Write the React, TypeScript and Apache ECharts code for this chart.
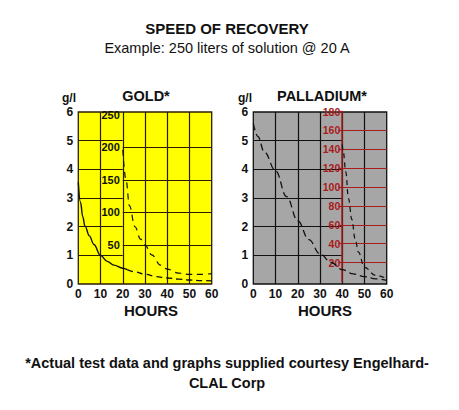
import React, { useEffect, useRef } from "react";
import * as echarts from "echarts";

// ---- data ----
const hourTicks = [0, 10, 20, 30, 40, 50, 60];

// GOLD: g/l curve (solid part, then dashed tail) on the left axis
const goldSolidHours = [0, 1, 2, 3, 5, 7, 10, 13, 16, 20, 22];
const goldSolidGpl = [3.55, 2.85, 2.35, 2.02, 1.68, 1.38, 1.0, 0.79, 0.66, 0.55, 0.5];
const goldTailHours = [22, 25, 30, 35, 40, 45, 50, 55, 60];
const goldTailGpl = [0.5, 0.43, 0.34, 0.26, 0.21, 0.17, 0.14, 0.12, 0.11];
// GOLD: second dashed curve on the inner 0-250 axis
const goldSecondHours = [20, 21.5, 23, 25.5, 28, 30, 33, 37, 40, 45, 50, 55, 60];
const goldSecondValues = [196, 149, 110, 78, 59, 50, 35, 19, 13, 7, 5, 5, 6];

// PALLADIUM: g/l dashed curve on the left axis
const pdHours = [0, 2, 5, 10, 15, 20, 25, 30, 35, 40, 45, 50, 55, 60];
const pdGpl = [5.6, 5.15, 4.6, 3.95, 3.05, 2.2, 1.55, 1.05, 0.75, 0.5, 0.35, 0.26, 0.18, 0.13];
// PALLADIUM: second dashed curve on the inner red 0-180 axis
const pdSecondHours = [40, 40.5, 41.6, 42.8, 44.3, 45.8, 47.3, 50, 55, 60];
const pdSecondValues = [145, 137, 116, 88, 66, 45, 31, 15, 6.5, 3];

const FONT = "'Liberation Sans', Arial, sans-serif";
const GOLD_BG = "#ffff00";
const GOLD_GRID = "#2a1d05";
const PD_BG = "#a6a6a6";
const PD_GRID = "#111111";
const RED = "#a81c1c";

const zip = (xs: number[], ys: number[]) => xs.map((x, i) => [x, ys[i]]);

function buildOption() {
  const PW = 133.4;
  const PH = 172;
  const T = 112;
  const GL = 78.3;
  const PL = 253.3;

  const hiddenX = (gridIndex: number, min: number, max: number) => ({
    gridIndex, type: "value", min, max, show: false,
  });
  const mainX = (gridIndex: number, color: string) => ({
    gridIndex, type: "value", min: hourTicks[0], max: hourTicks[hourTicks.length - 1], interval: 10,
    axisLine: { show: false }, axisTick: { show: false },
    axisLabel: { margin: 4, fontSize: 12, fontWeight: "bold", color: "#111", fontFamily: FONT },
    splitLine: { show: true, showMinLine: false, showMaxLine: false, lineStyle: { color, width: 1.2 } },
  });
  const mainY = (gridIndex: number) => ({
    gridIndex, type: "value", min: 0, max: 6, interval: 1,
    axisLine: { show: false }, axisTick: { show: false },
    axisLabel: { margin: 5, fontSize: 12, fontWeight: "bold", color: "#111", fontFamily: FONT },
    splitLine: { show: false },
  });
  const sectionY = (gridIndex: number, color: string) => ({
    gridIndex, type: "value", min: 0, max: 6, interval: 1,
    axisLine: { show: false }, axisTick: { show: false }, axisLabel: { show: false },
    splitLine: { show: true, showMinLine: false, showMaxLine: false, lineStyle: { color, width: 1.2 } },
  });

  const txt = (x: number, y: number, text: string, fontSize: number, bold = true, extra: any = {}) => ({
    type: "text", x, y,
    style: {
      text, fontSize, fontWeight: bold ? "bold" : "normal", fontFamily: FONT,
      fill: "#111", textAlign: "center", textVerticalAlign: "middle", ...extra,
    },
  });

  return {
    animation: false,
    grid: [
      { left: GL, top: T, width: PW, height: PH, show: true, backgroundColor: GOLD_BG, borderColor: GOLD_GRID, borderWidth: 1.3, outerBoundsMode: "none" },
      { left: GL, top: T, width: PW / 3, height: PH, outerBoundsMode: "none" },
      { left: GL + PW / 3, top: 114.6, width: (PW * 2) / 3, height: 163, outerBoundsMode: "none" },
      { left: PL, top: T, width: PW, height: PH, show: true, backgroundColor: PD_BG, borderColor: PD_GRID, borderWidth: 1.3, outerBoundsMode: "none" },
      { left: PL, top: T, width: (PW * 2) / 3, height: PH, outerBoundsMode: "none" },
      { left: PL + (PW * 2) / 3, top: 111.5, width: PW / 3, height: 170, outerBoundsMode: "none" },
    ],
    xAxis: [
      mainX(0, GOLD_GRID),
      hiddenX(1, 0, 20),
      hiddenX(2, 20, 60),
      mainX(3, PD_GRID),
      hiddenX(4, 0, 40),
      hiddenX(5, 40, 60),
    ],
    yAxis: [
      mainY(0),
      sectionY(1, GOLD_GRID),
      {
        gridIndex: 2, type: "value", min: 0, max: 250, interval: 50,
        axisLine: { show: false }, axisTick: { show: false },
        axisLabel: { margin: 3, fontSize: 11, fontWeight: "bold", color: "#111", fontFamily: FONT, showMinLabel: false },
        splitLine: { show: true, showMinLine: false, showMaxLine: false, lineStyle: { color: GOLD_GRID, width: 1.2 } },
      },
      mainY(3),
      sectionY(4, PD_GRID),
      {
        gridIndex: 5, type: "value", min: 0, max: 180, interval: 20, z: 3,
        axisLine: { show: true, lineStyle: { color: RED, width: 1.5 } },
        axisTick: { show: true, length: 4, lineStyle: { color: RED, width: 1.2 } },
        axisLabel: { margin: 2, fontSize: 10.5, fontWeight: "bold", color: RED, fontFamily: FONT, showMinLabel: false },
        splitLine: { show: true, showMinLine: false, showMaxLine: false, lineStyle: { color: RED, width: 1.2 } },
      },
    ],
    series: [
      {
        name: "Gold g/l", type: "line", xAxisIndex: 0, yAxisIndex: 0,
        data: zip(goldSolidHours, goldSolidGpl), symbol: "none", smooth: 0.4, smoothMonotone: "x",
        lineStyle: { color: "#111", width: 1.4 },
      },
      {
        name: "Gold g/l tail", type: "line", xAxisIndex: 0, yAxisIndex: 0,
        data: zip(goldTailHours, goldTailGpl), symbol: "none", smooth: 0.4, smoothMonotone: "x",
        lineStyle: { color: "#111", width: 1.3, type: [6, 4] },
      },
      {
        name: "Gold second", type: "line", xAxisIndex: 2, yAxisIndex: 2,
        data: zip(goldSecondHours, goldSecondValues), symbol: "none", smooth: 0.4, smoothMonotone: "x",
        lineStyle: { color: "#111", width: 1.2, type: [6, 5] },
      },
      {
        name: "Palladium g/l", type: "line", xAxisIndex: 3, yAxisIndex: 3,
        data: zip(pdHours, pdGpl), symbol: "none", smooth: 0.4, smoothMonotone: "x",
        lineStyle: { color: "#111", width: 1.3, type: [7, 4] },
      },
      {
        name: "Palladium second", type: "line", xAxisIndex: 5, yAxisIndex: 5,
        data: zip(pdSecondHours, pdSecondValues), symbol: "none", smooth: 0.4, smoothMonotone: "x",
        lineStyle: { color: "#111", width: 1.2, type: [5, 4] },
      },
    ],
    graphic: [
      txt(227, 28, "SPEED OF RECOVERY", 15),
      txt(227, 48, "Example: 250 liters of solution @ 20 A", 14.5, false),
      txt(146, 96, "GOLD*", 14.5),
      txt(322, 96, "PALLADIUM*", 14.5),
      txt(69, 97.5, "g/l", 12),
      txt(245, 97.5, "g/l", 12),
      txt(151, 310, "HOURS", 15),
      txt(325, 310, "HOURS", 15),
      txt(227, 363, "*Actual test data and graphs supplied courtesy Engelhard-", 14.5),
      txt(227, 383, "CLAL Corp", 14.5),
    ],
  };
}

export default function App() {
  const ref = useRef<HTMLDivElement>(null);
  useEffect(() => {
    document.body.style.margin = "0";
    const chart = echarts.init(ref.current!, null, { renderer: "svg" });
    chart.setOption(buildOption() as any);
    return () => chart.dispose();
  }, []);
  return <div ref={ref} style={{ width: 459, height: 410 }} />;
}
